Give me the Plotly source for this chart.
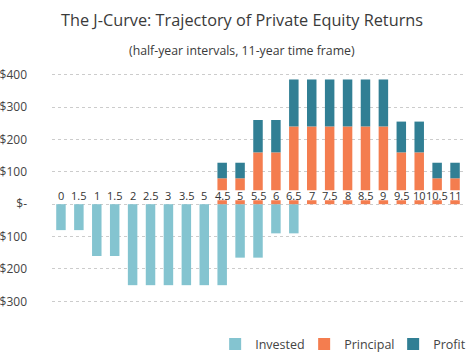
import plotly.graph_objects as go

categories = ["0", "1.5", "1", "1.5", "2", "2.5", "3", "3.5", "5", "4.5", "5", "5.5",
              "6", "6.5", "7", "7.5", "8", "8.5", "9", "9.5", "10", "10.5", "11"]
invested = [-80, -80, -160, -160, -250, -250, -250, -250, -250, -250, -165, -165,
            -90, -90, 0, 0, 0, 0, 0, 0, 0, 0, 0]
principal = [0, 0, 0, 0, 0, 0, 0, 0, 0, 80, 80, 160,
             160, 240, 240, 240, 240, 240, 240, 160, 160, 80, 80]
profit = [0, 0, 0, 0, 0, 0, 0, 0, 0, 48, 48, 100,
          100, 145, 145, 145, 145, 145, 145, 95, 95, 48, 48]
tick_vals = [400, 300, 200, 100, 0, -100, -200, -300]
tick_text = ["$400", "$300", "$200", "$100", "$-", "$100", "$200", "$300"]

FONT = "Open Sans"
x = list(range(len(categories)))

fig = go.Figure()
fig.add_bar(x=x, y=invested, name="Invested", marker_color="#84c4d0", marker_line_width=0)
fig.add_bar(x=x, y=principal, name="Principal", marker_color="#f47d4f", marker_line_width=0)
fig.add_bar(x=x, y=profit, name="Profit", marker_color="#317f94", marker_line_width=0)

# white band behind the category labels (cuts through the bars just above the zero line)
fig.add_shape(type="rect", xref="paper", x0=0, x1=1, yref="y", ysizemode="pixel", yanchor=0,
              y0=4, y1=14, fillcolor="white", line_width=0, layer="above")

for i, c in enumerate(categories):
    fig.add_annotation(x=i, y=0, text=c, showarrow=False, yanchor="middle", yshift=9,
                       font=dict(family=FONT, size=11, color="#333333"))

fig.add_annotation(text="The J-Curve: Trajectory of Private Equity Returns", xref="paper", yref="paper",
                   x=0.462, y=1, yshift=53, showarrow=False, yanchor="middle",
                   font=dict(family=FONT, size=16.3, color="#3a3a3a"))
fig.add_annotation(text="(half-year intervals, 11-year time frame)", xref="paper", yref="paper",
                   x=0.462, y=1, yshift=23, showarrow=False, yanchor="middle",
                   font=dict(family=FONT, size=12.3, color="#3a3a3a"))

fig.update_layout(
    width=474, height=353,
    margin=dict(l=52, r=10, t=73, b=50, autoexpand=False),
    barmode="relative", bargap=0.47,
    plot_bgcolor="white", paper_bgcolor="white",
    font=dict(family=FONT, size=12, color="#444444"),
    showlegend=True,
    legend=dict(orientation="h", x=0.396, xanchor="left", y=-0.18, yanchor="middle",
                entrywidth=44, entrywidthmode="pixels",
                font=dict(family=FONT, size=12.5, color="#444444")),
)
fig.update_xaxes(range=[-0.5, 22.5], showticklabels=False, showgrid=False, zeroline=False,
                 showline=False, fixedrange=True)
fig.update_yaxes(range=[-305, 405], tickvals=tick_vals, ticktext=tick_text, showgrid=True,
                 gridcolor="#cccccc", griddash="dot", gridwidth=1, zeroline=False, showline=False,
                 ticklabelstandoff=24, tickfont=dict(family=FONT, size=12, color="#444444"))

fig.write_html("out.html")
